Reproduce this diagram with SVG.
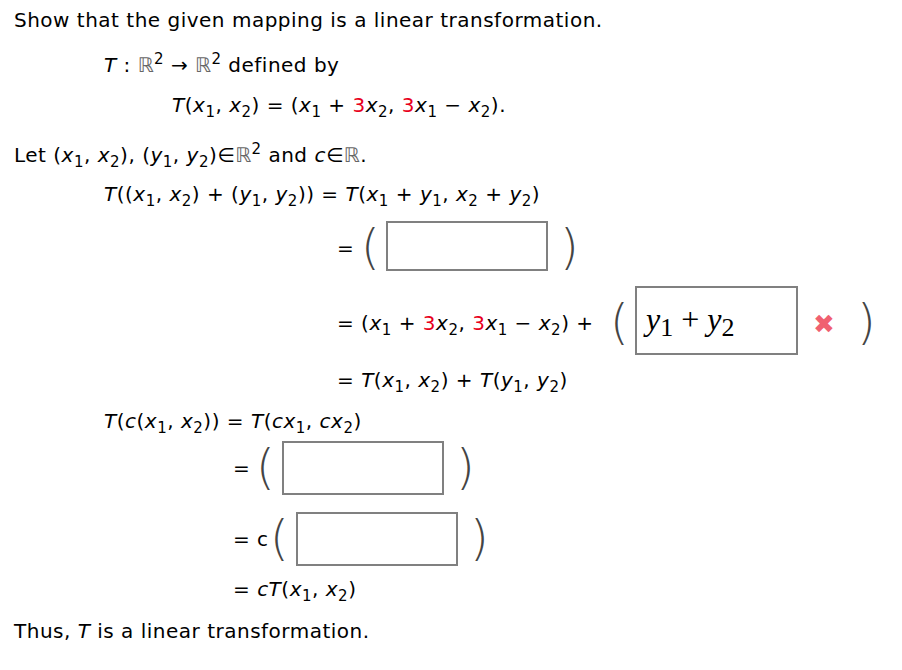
<svg xmlns="http://www.w3.org/2000/svg" width="902" height="670" viewBox="0 0 902 670">
<style>
text{font-family:"DejaVu Sans",Verdana,sans-serif;font-size:20px;letter-spacing:0.5px;fill:#000}
.i{font-style:italic}
.r{fill:#e8001c}
.s{font-size:15px}
.bb{fill:#666}
.p{font-size:48px;fill:#444;font-weight:200;letter-spacing:0}
.box{fill:#fff;stroke:#808080;stroke-width:2}
.m{font-family:"Liberation Serif","DejaVu Serif",serif;font-size:32px;letter-spacing:0}
</style>
<rect width="902" height="670" fill="#fff"/>
<text x="14" y="27">Show that the given mapping is a linear transformation.</text>
<text x="104" y="72"><tspan class="i">T</tspan> : <tspan class="bb">ℝ</tspan><tspan class="s" dy="-8">2</tspan><tspan dy="8"> → </tspan><tspan class="bb">ℝ</tspan><tspan class="s" dy="-8">2</tspan><tspan dy="8">  defined by</tspan></text>
<text x="172" y="112"><tspan class="i">T</tspan>(<tspan class="i">x</tspan><tspan class="s" dy="5">1</tspan><tspan dy="-5">, </tspan><tspan class="i">x</tspan><tspan class="s" dy="5">2</tspan><tspan dy="-5">) = (</tspan><tspan class="i">x</tspan><tspan class="s" dy="5">1</tspan><tspan dy="-5"> + </tspan><tspan class="r">3</tspan><tspan class="i">x</tspan><tspan class="s" dy="5">2</tspan><tspan dy="-5">, </tspan><tspan class="r">3</tspan><tspan class="i">x</tspan><tspan class="s" dy="5">1</tspan><tspan dy="-5"> − </tspan><tspan class="i">x</tspan><tspan class="s" dy="5">2</tspan><tspan dy="-5">).</tspan></text>
<text x="14" y="162">Let  (<tspan class="i">x</tspan><tspan class="s" dy="5">1</tspan><tspan dy="-5">, </tspan><tspan class="i">x</tspan><tspan class="s" dy="5">2</tspan><tspan dy="-5">), (</tspan><tspan class="i">y</tspan><tspan class="s" dy="5">1</tspan><tspan dy="-5">, </tspan><tspan class="i">y</tspan><tspan class="s" dy="5">2</tspan><tspan dy="-5">)∈</tspan><tspan class="bb">ℝ</tspan><tspan class="s" dy="-8">2</tspan><tspan dy="8"> and </tspan><tspan class="i">c</tspan>∈<tspan class="bb">ℝ</tspan>.</text>
<text x="104" y="201"><tspan class="i">T</tspan>((<tspan class="i">x</tspan><tspan class="s" dy="5">1</tspan><tspan dy="-5">, </tspan><tspan class="i">x</tspan><tspan class="s" dy="5">2</tspan><tspan dy="-5">) + (</tspan><tspan class="i">y</tspan><tspan class="s" dy="5">1</tspan><tspan dy="-5">, </tspan><tspan class="i">y</tspan><tspan class="s" dy="5">2</tspan><tspan dy="-5">)) = </tspan><tspan class="i">T</tspan>(<tspan class="i">x</tspan><tspan class="s" dy="5">1</tspan><tspan dy="-5"> + </tspan><tspan class="i">y</tspan><tspan class="s" dy="5">1</tspan><tspan dy="-5">, </tspan><tspan class="i">x</tspan><tspan class="s" dy="5">2</tspan><tspan dy="-5"> + </tspan><tspan class="i">y</tspan><tspan class="s" dy="5">2</tspan><tspan dy="-5">)</tspan></text>
<g id="row2">
<text x="337" y="255">=</text>
<text class="p" x="361" y="264">(</text>
<rect class="box" x="387" y="222" width="160" height="48"/>
<text class="p" x="560" y="264">)</text>
</g>
<g id="row3">
<text x="337" y="330">= (<tspan class="i">x</tspan><tspan class="s" dy="5">1</tspan><tspan dy="-5"> + </tspan><tspan class="r">3</tspan><tspan class="i">x</tspan><tspan class="s" dy="5">2</tspan><tspan dy="-5">, </tspan><tspan class="r">3</tspan><tspan class="i">x</tspan><tspan class="s" dy="5">1</tspan><tspan dy="-5"> − </tspan><tspan class="i">x</tspan><tspan class="s" dy="5">2</tspan><tspan dy="-5">) +</tspan></text>
<text class="p" x="610" y="339">(</text>
<rect class="box" x="636" y="287" width="161" height="67"/>
<text class="m" x="646" y="330"><tspan class="i">y</tspan><tspan font-size="26" dy="6">1</tspan><tspan dy="-6" font-size="32"> + </tspan><tspan class="i">y</tspan><tspan font-size="26" dy="6">2</tspan></text>
<text x="813" y="333" style="fill:#f06070;font-size:26px;font-weight:bold">✖</text>
<text class="p" x="857" y="339">)</text>
</g>
<text x="337" y="387">= <tspan class="i">T</tspan>(<tspan class="i">x</tspan><tspan class="s" dy="5">1</tspan><tspan dy="-5">, </tspan><tspan class="i">x</tspan><tspan class="s" dy="5">2</tspan><tspan dy="-5">) + </tspan><tspan class="i">T</tspan>(<tspan class="i">y</tspan><tspan class="s" dy="5">1</tspan><tspan dy="-5">, </tspan><tspan class="i">y</tspan><tspan class="s" dy="5">2</tspan><tspan dy="-5">)</tspan></text>
<text x="104" y="428"><tspan class="i">T</tspan>(<tspan class="i">c</tspan>(<tspan class="i">x</tspan><tspan class="s" dy="5">1</tspan><tspan dy="-5">, </tspan><tspan class="i">x</tspan><tspan class="s" dy="5">2</tspan><tspan dy="-5">)) = </tspan><tspan class="i">T</tspan>(<tspan class="i">cx</tspan><tspan class="s" dy="5">1</tspan><tspan dy="-5">, </tspan><tspan class="i">cx</tspan><tspan class="s" dy="5">2</tspan><tspan dy="-5">)</tspan></text>
<g id="row5">
<text x="233" y="475">=</text>
<text class="p" x="256" y="484">(</text>
<rect class="box" x="283" y="442" width="160" height="52"/>
<text class="p" x="456" y="484">)</text>
</g>
<g id="row6">
<text x="233" y="546">= c</text>
<text class="p" x="270" y="555">(</text>
<rect class="box" x="297" y="513" width="160" height="52"/>
<text class="p" x="470" y="555">)</text>
</g>
<text x="233" y="596">= <tspan class="i">cT</tspan>(<tspan class="i">x</tspan><tspan class="s" dy="5">1</tspan><tspan dy="-5">, </tspan><tspan class="i">x</tspan><tspan class="s" dy="5">2</tspan><tspan dy="-5">)</tspan></text>
<text x="14" y="638">Thus, <tspan class="i">T</tspan> is a linear transformation.</text>
</svg>
